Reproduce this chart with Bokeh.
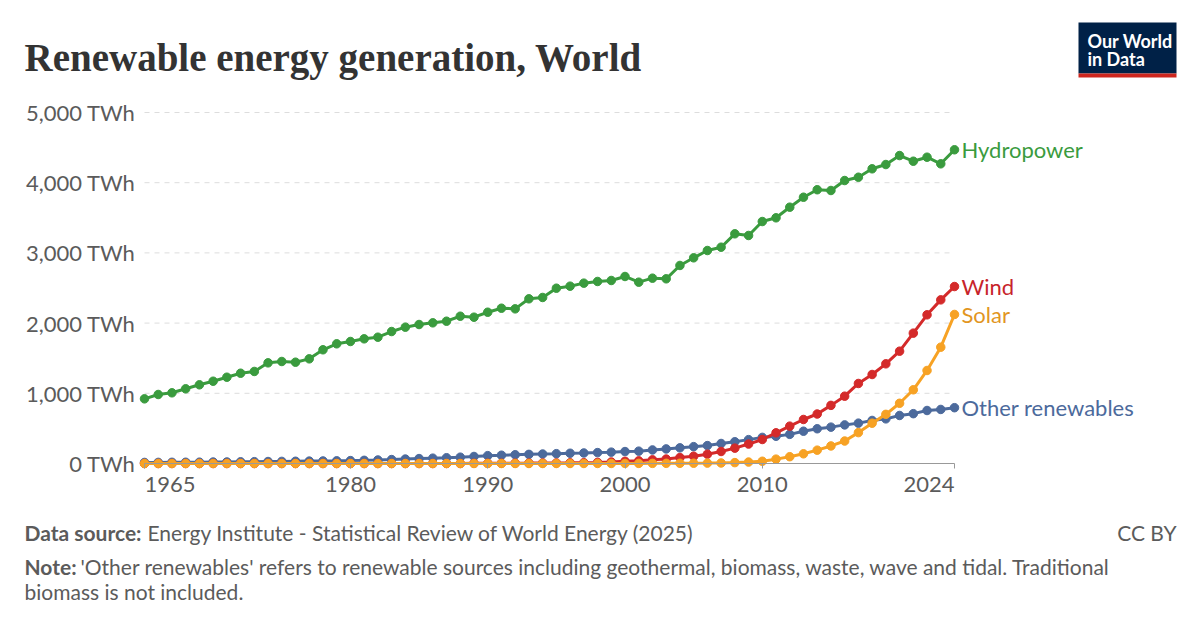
from bokeh.plotting import figure
from bokeh.models import Label, FixedTicker, Range1d, BoxAnnotation
from bokeh.core.properties import value
from bokeh.embed import file_html
from bokeh.resources import INLINE

years = list(range(1965, 2025))

hydropower = [921, 983, 1007, 1064, 1121, 1172, 1229, 1286, 1311, 1434,
              1453, 1443, 1491, 1620, 1705, 1738, 1776, 1799, 1880, 1942,
              1980, 2004, 2027, 2098, 2084, 2155, 2212, 2203, 2346, 2365,
              2497, 2526, 2569, 2593, 2607, 2664, 2583, 2640, 2631, 2821,
              2930, 3034, 3081, 3272, 3248, 3447, 3500, 3651, 3793, 3900,
              3889, 4031, 4078, 4198, 4259, 4387, 4306, 4363, 4269, 4469]

wind = [0, 0, 0, 0, 0, 0, 0, 0, 0, 0,
        0, 0, 0, 0, 0, 0, 0, 0, 0, 0,
        0.1, 0.2, 0.3, 0.4, 2.6, 3.6, 4.1, 4.7, 5.7, 7.3,
        8.3, 9.6, 12, 16, 21, 31, 38, 52, 63, 85,
        104, 133, 171, 219, 277, 342, 437, 532, 627, 705,
        828, 959, 1140, 1268, 1420, 1600, 1857, 2118, 2331, 2521]

solar = [0, 0, 0, 0, 0, 0, 0, 0, 0, 0,
         0, 0, 0, 0, 0, 0, 0, 0, 0, 0,
         0, 0, 0, 0, 0, 0.1, 0.1, 0.1, 0.2, 0.2,
         0.2, 0.3, 0.4, 0.5, 0.7, 1.1, 1.4, 1.8, 2.3, 3,
         4, 5.5, 7.5, 12.5, 20.5, 32, 62, 97, 138, 190,
         250, 320, 440, 574, 700, 858, 1050, 1325, 1657, 2123]

other_renewables = [15, 16, 17, 18, 19, 21, 22, 24, 26, 28,
                    30, 32, 34, 36, 38, 41, 45, 50, 56, 63,
                    70, 76, 82, 90, 100, 112, 118, 125, 130, 135,
                    140, 146, 150, 155, 162, 170, 176, 193, 208, 223,
                    240, 255, 285, 310, 340, 372, 388, 415, 460, 495,
                    518, 550, 575, 613, 636, 684, 710, 755, 770, 795]

series_names = ["Other renewables", "Wind", "Solar", "Hydropower"]
series_values = [other_renewables, wind, solar, hydropower]
line_colors = ["#4c6a9c", "#d42a2a", "#f7a224", "#3a9b3e"]
label_colors = ["#4c6a9c", "#c7242a", "#e2961f", "#3a9b3e"]

y_ticks = [0, 1000, 2000, 3000, 4000, 5000]
y_tick_labels = ["0 TWh", "1,000 TWh", "2,000 TWh", "3,000 TWh", "4,000 TWh", "5,000 TWh"]
x_ticks = [1965, 1980, 1990, 2000, 2010, 2024]
x_tick_labels = ["1965", "1980", "1990", "2000", "2010", "2024"]

FONT = "Lato"
GREY = "#5b5b5b"

W, H = 1200, 627
# pixel geometry of the plotting area (canvas pixels)
PX_LEFT, PX_RIGHT, PX_TOP, PX_ZERO = 144, 954, 112, 463
px_per_year = (PX_RIGHT - PX_LEFT) / (years[-1] - years[0])
px_per_twh = (PX_ZERO - PX_TOP) / y_ticks[-1]

# the frame covers the whole canvas; axes are pinned inside it
x0 = years[0] - PX_LEFT / px_per_year
x1 = years[-1] + (W - PX_RIGHT) / px_per_year
y1 = y_ticks[-1] + PX_TOP / px_per_twh
y0 = -(H - PX_ZERO) / px_per_twh

p = figure(width=W, height=H, output_backend="svg", toolbar_location=None,
           x_range=Range1d(x0, x1), y_range=Range1d(y0, y1),
           min_border=0, min_border_left=0, min_border_right=0,
           min_border_top=0, min_border_bottom=0)
p.outline_line_color = None
p.background_fill_color = "white"
p.border_fill_color = "white"
p.xgrid.visible = False
p.ygrid.visible = False

# horizontal dashed grid lines spanning the year range
p.segment(x0=[years[0]] * len(y_ticks[1:]), x1=[years[-1]] * len(y_ticks[1:]),
          y0=y_ticks[1:], y1=y_ticks[1:], line_color="#dddddd", line_width=1,
          line_dash="5 5")

# axes
p.yaxis.fixed_location = years[0] - 6 / px_per_year
p.yaxis.ticker = FixedTicker(ticks=y_ticks)
p.yaxis.major_label_overrides = {t: l for t, l in zip(y_ticks, y_tick_labels)}
p.yaxis.axis_line_color = None
p.yaxis.major_tick_line_color = None
p.yaxis.major_tick_in = 0
p.yaxis.major_tick_out = 0
p.yaxis.minor_tick_line_color = None
p.yaxis.major_label_text_font = FONT
p.yaxis.major_label_text_font_size = "22px"
p.yaxis.major_label_text_color = GREY
p.yaxis.major_label_standoff = 3

# first and last year labels are aligned to the ends of the axis, drawn below
inner_overrides = {t: l for t, l in zip(x_ticks, x_tick_labels)}
inner_overrides[x_ticks[0]] = ""
inner_overrides[x_ticks[-1]] = ""
p.xaxis.fixed_location = 0
p.xaxis.ticker = FixedTicker(ticks=x_ticks)
p.xaxis.major_label_overrides = inner_overrides
p.xaxis.bounds = (years[0], years[-1])
p.xaxis.axis_line_color = "#999999"
p.xaxis.major_tick_line_color = "#999999"
p.xaxis.major_tick_in = 0
p.xaxis.major_tick_out = 5
p.xaxis.minor_tick_line_color = None
p.xaxis.major_label_text_font = FONT
p.xaxis.major_label_text_font_size = "22px"
p.xaxis.major_label_text_color = GREY
p.xaxis.major_label_standoff = 8

for tick, lab, align in [(x_ticks[0], x_tick_labels[0], "left"),
                         (x_ticks[-1], x_tick_labels[-1], "right")]:
    p.text(x=[tick], y=[0], text=[lab], text_align=align,
           text_color=GREY, text_font=value(FONT), text_font_size="22px",
           text_baseline="top", y_offset=13)

for name, vals, lc, tc in zip(series_names, series_values, line_colors, label_colors):
    p.line(years, vals, line_color=lc, line_width=3)
    p.scatter(years, vals, size=8.5, fill_color=lc, line_color=lc)
    p.text(x=[years[-1]], y=[vals[-1]], text=[name], text_color=tc,
           text_font=value(FONT), text_font_size="22px",
           text_baseline="middle", text_align="left", x_offset=7)


def sy(cy):
    return H - cy


def add_text(cx, cy, text, size, bold=False, align="left", color=GREY,
             font=FONT, baseline="middle"):
    p.add_layout(Label(x=cx, y=sy(cy), x_units="screen", y_units="screen",
                       text=text, text_font=font,
                       text_font_style="bold" if bold else "normal",
                       text_font_size=size, text_color=color,
                       text_align=align, text_baseline=baseline))


# Title
add_text(24, 57, "Renewable energy generation, World", "39px", bold=True,
         color="#333333", font="Liberation Serif", baseline="alphabetic")

# Logo
p.add_layout(BoxAnnotation(left=1078, right=1176, top=sy(22), bottom=sy(73),
                           left_units="screen", right_units="screen",
                           top_units="screen", bottom_units="screen",
                           fill_color="#002147", fill_alpha=1, line_color=None))
p.add_layout(BoxAnnotation(left=1078, right=1176, top=sy(73), bottom=sy(77),
                           left_units="screen", right_units="screen",
                           top_units="screen", bottom_units="screen",
                           fill_color="#ce261e", fill_alpha=1, line_color=None))
add_text(1087, 40, "Our World", "18px", bold=True, color="white")
add_text(1087, 58, "in Data", "18px", bold=True, color="white")

# Footer
add_text(24, 532, "Data source:", "21px", bold=True)
add_text(147, 532, "Energy Institute - Statistical Review of World Energy (2025)", "21px")
add_text(1176, 532, "CC BY", "21px", align="right")
add_text(24, 566, "Note:", "21px", bold=True)
add_text(80, 566, "'Other renewables' refers to renewable sources including geothermal, "
         "biomass, waste, wave and tidal. Traditional", "21px")
add_text(24, 591, "biomass is not included.", "21px")

open("out.html", "w").write(file_html(p, INLINE))
